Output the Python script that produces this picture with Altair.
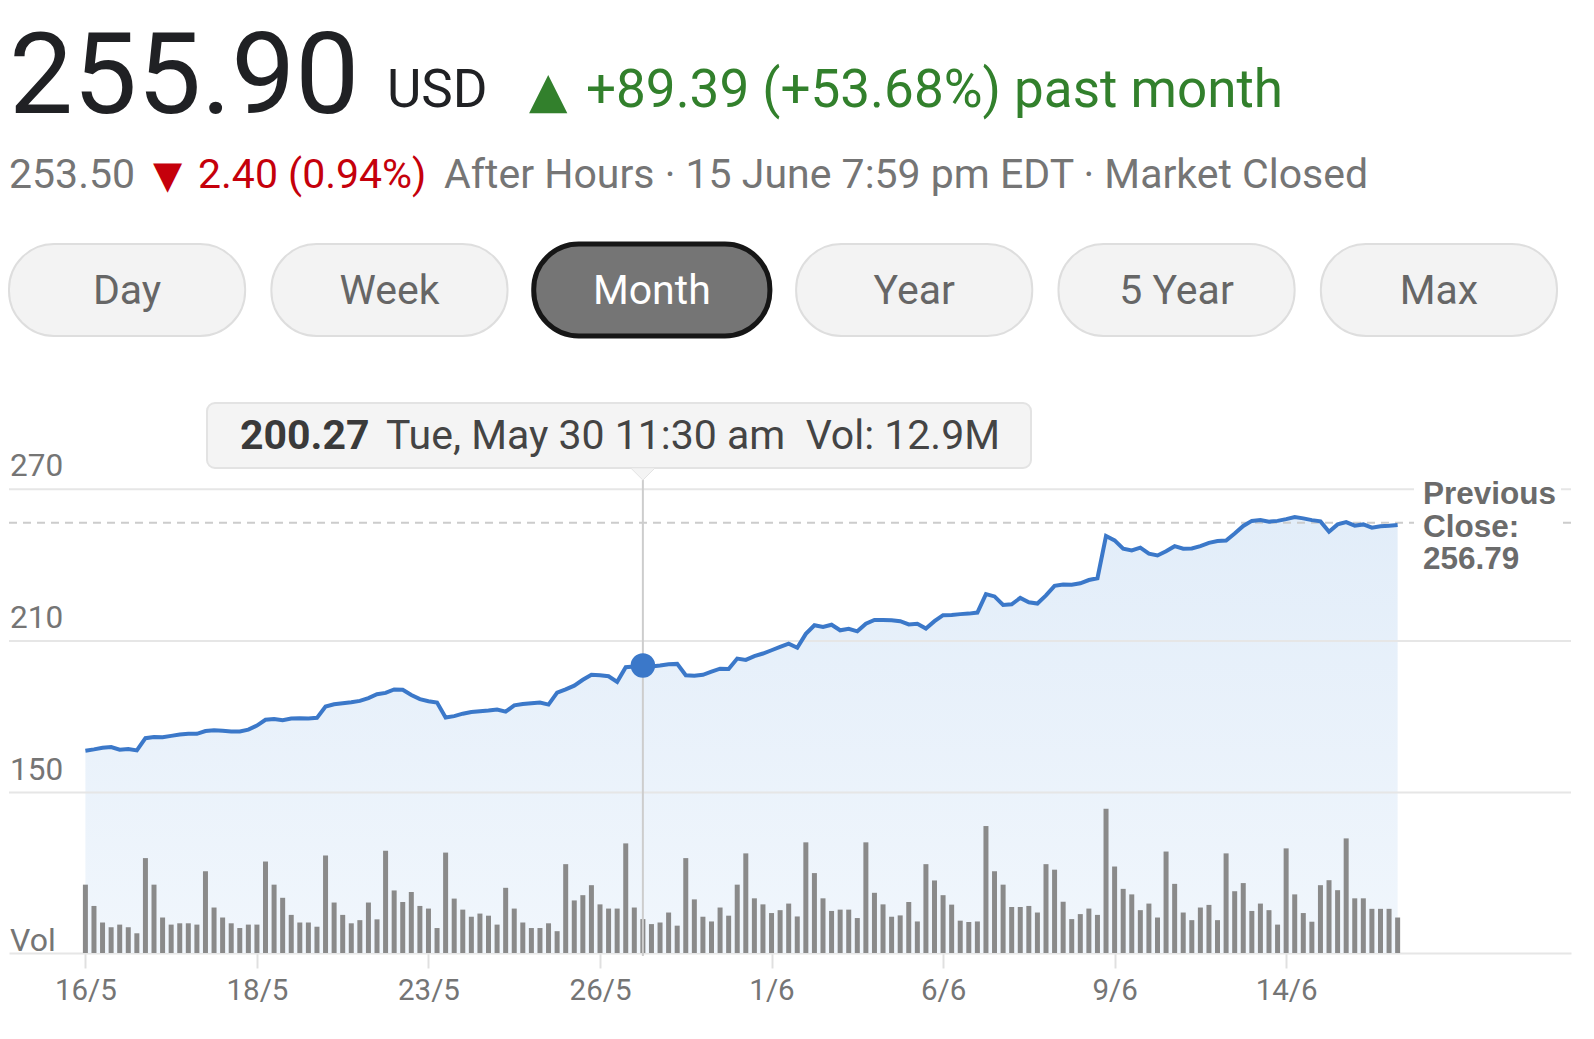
import altair as alt
import pandas as pd

# ---------------- data ----------------
days = ["Tue, May 16", "Wed, May 17", "Thu, May 18", "Fri, May 19",
        "Mon, May 22", "Tue, May 23", "Wed, May 24", "Thu, May 25", "Fri, May 26",
        "Tue, May 30", "Wed, May 31", "Thu, Jun 1", "Fri, Jun 2",
        "Mon, Jun 5", "Tue, Jun 6", "Wed, Jun 7", "Thu, Jun 8", "Fri, Jun 9",
        "Mon, Jun 12", "Tue, Jun 13", "Wed, Jun 14", "Thu, Jun 15"]
hours = ["9:30 am", "10:30 am", "11:30 am", "12:30 pm", "1:30 pm", "2:30 pm", "3:30 pm"]

prices = [
    166.51, 167.06, 167.74, 168.02, 166.92, 167.20, 166.65,
    171.50, 172.00, 171.86, 172.41, 172.96, 173.23, 173.23,
    174.33, 174.60, 174.47, 174.19, 174.19, 174.88, 176.50,
    178.80, 179.13, 178.58, 179.27, 179.40, 179.27, 179.54,
    184.00, 184.90, 185.30, 185.71, 186.26, 187.36, 188.87,
    189.42, 190.79, 190.65, 188.59, 186.95, 186.13, 185.58,
    179.68, 180.23, 181.19, 181.87, 182.15, 182.42, 182.83,
    182.00, 184.50, 185.00, 185.30, 185.60, 184.80, 189.50,
    190.80, 192.30, 194.60, 196.60, 196.40, 196.00, 193.80,
    199.60, 199.90, 200.27, 199.90, 200.30, 200.80, 200.90,
    196.40, 196.20, 196.60, 197.80, 199.00, 198.90, 203.00,
    202.50, 204.00, 205.00, 206.30, 207.60, 208.90, 207.30,
    212.80, 216.20, 215.50, 216.40, 214.20, 214.80, 213.80,
    216.80, 218.30, 218.30, 218.20, 217.80, 216.50, 216.80,
    214.90, 217.80, 220.20, 220.30, 220.60, 220.80, 221.20,
    228.50, 227.60, 224.20, 224.50, 227.00, 225.30, 224.80,
    228.00, 231.80, 232.30, 232.20, 232.80, 234.10, 234.80,
    251.50, 249.80, 246.50, 245.80, 246.90, 244.50, 243.80,
    245.50, 247.50, 246.50, 246.60, 247.50, 248.80, 249.50,
    249.70, 252.50, 255.50, 257.50, 257.85, 257.20, 257.50,
    258.20, 259.00, 258.50, 257.80, 257.30, 253.20, 256.10,
    257.00, 255.60, 256.10, 254.80, 255.40, 255.60, 255.90,
]

volumes = [  # millions of shares per hour
    26.0, 17.9, 11.6, 9.8, 10.8, 9.8, 7.5,
    36.1, 26.0, 13.5, 10.8, 11.3, 11.3, 10.8,
    31.1, 17.3, 13.5, 11.3, 9.5, 10.8, 10.8,
    34.8, 26.0, 21.0, 14.5, 11.6, 11.6, 10.0,
    37.1, 19.2, 14.5, 11.3, 12.5, 19.2, 12.8,
    38.9, 23.8, 19.4, 23.2, 17.9, 16.9, 9.5,
    38.2, 20.7, 16.5, 13.8, 15.0, 14.2, 10.8,
    24.8, 16.9, 11.6, 9.5, 9.5, 11.3, 8.3,
    33.8, 20.0, 22.0, 25.8, 18.5, 16.9, 16.9,
    41.7, 17.3, 12.9, 11.0, 11.6, 15.4, 10.4,
    36.1, 20.4, 13.8, 12.0, 17.3, 14.2, 26.0,
    37.9, 20.8, 18.5, 15.2, 16.3, 18.8, 13.9,
    42.1, 30.4, 20.8, 16.0, 16.5, 16.5, 13.3,
    42.1, 22.9, 18.5, 13.8, 14.3, 19.4, 12.0,
    33.8, 27.6, 22.0, 18.4, 12.3, 11.8, 12.0,
    48.3, 31.1, 26.0, 17.5, 17.5, 17.9, 15.4,
    33.8, 31.7, 19.5, 12.9, 14.8, 16.9, 14.5,
    54.9, 32.9, 24.4, 22.3, 16.3, 18.8, 13.5,
    38.6, 26.3, 15.4, 12.5, 17.3, 18.3, 12.5,
    37.9, 23.5, 26.6, 16.0, 18.8, 16.3, 10.8,
    39.8, 22.3, 15.2, 11.9, 25.8, 27.7, 23.9,
    43.6, 20.8, 20.8, 16.8, 16.8, 16.8, 13.5,
]

tick_labels = ["16/5", "18/5", "23/5", "26/5", "1/6", "6/6", "9/6", "14/6"]
tick_every = 20
price_ticks = [270, 210, 150]
prev_close = 256.79
ah_price = 253.50
ah_change = 2.40
ah_pct = 0.94
ah_time = "15 June 7:59 pm EDT"
buttons = ["Day", "Week", "Month", "Year", "5 Year", "Max"]
selected = "Month"
hover_index = 65

# ---------------- tables ----------------
n = len(prices)
df = pd.DataFrame({
    "idx": list(range(n)),
    "price": prices,
    "vol": volumes,
    "when": [f"{d} {h}" for d in days for h in hours],
})
hover = df[df.idx == hover_index]
one = pd.DataFrame({"k": [0]})

# ---------------- styling ----------------
W = 1562
W_BTN = 1548
H_HEAD = 232
H_BTN = 100
H_MAIN = 613
FONT = "Roboto"
BLUE = "#3b78c9"
GREY = "#757575"
GREEN = "#32802c"
RED = "#c5000b"

x_scale = alt.Scale(domain=[-8.324, 172.63], nice=False, zero=False)
p_scale = alt.Scale(domain=[86.48, 329.09], nice=False, zero=False)
v_scale = alt.Scale(domain=[0, 233.2], nice=False)


def txt(text, x, y, size, color, weight="normal", font=FONT, align="left"):
    return alt.Chart(one).mark_text(
        text=text, align=align, baseline="alphabetic", fontSize=size,
        color=color, fontWeight=weight, font=font
    ).encode(x=alt.value(x), y=alt.value(y))


# ---------------- header ----------------
first, last = prices[0], prices[-1]
chg = last - first
pct = chg / first * 100
header = alt.layer(
    txt(f"{last:.2f}", 0, 105, 114, "#202124"),
    txt("USD", 378, 99, 53, "#202124"),
    txt("▲", 520, 99, 50, GREEN, font="DejaVu Sans"),
    txt(f"+{chg:.2f} (+{pct:.2f}%) past month", 577, 99, 53, GREEN),
    txt(f"{ah_price:.2f}", 0, 180, 41, GREY),
    txt("▼", 144, 180, 38, RED, font="DejaVu Sans"),
    txt(f"{ah_change:.2f} ({ah_pct:.2f}%)", 189, 180, 41, RED),
    txt(f"After Hours · {ah_time} · Market Closed", 435, 180, 41, GREY),
).properties(width=W, height=H_HEAD)

# ---------------- buttons ----------------
bdf = pd.DataFrame({"label": buttons})
bx = alt.X("label:N", sort=buttons,
           scale=alt.Scale(domain=buttons, paddingInner=0.1, paddingOuter=0),
           axis=None)
is_sel = alt.datum.label == selected
btn_rect = alt.Chart(bdf).mark_rect(cornerRadius=45).encode(
    x=bx, y=alt.value(4), y2=alt.value(96),
    fill=alt.when(is_sel).then(alt.value("#757575")).otherwise(alt.value("#f3f3f3")),
    stroke=alt.when(is_sel).then(alt.value("#161616")).otherwise(alt.value("#dedede")),
    strokeWidth=alt.when(is_sel).then(alt.value(5)).otherwise(alt.value(2)),
)
btn_text = alt.Chart(bdf).mark_text(fontSize=41, font=FONT, baseline="middle").encode(
    x=bx, y=alt.value(52), text="label:N",
    color=alt.when(is_sel).then(alt.value("#ffffff")).otherwise(alt.value("#666666")),
)
btns = alt.layer(btn_rect, btn_text).properties(width=W_BTN, height=H_BTN)

# ---------------- main chart ----------------
label_expr = "[" + ",".join(f"'{t}'" for t in tick_labels) + f"][round(datum.value / {tick_every})]"
x_axis_def = alt.Axis(
    values=list(range(0, tick_every * len(tick_labels), tick_every)),
    labelExpr=label_expr, title=None, grid=False,
    domainColor="#e6e6e6", domainWidth=2,
    tickColor="#e0e0e0", tickWidth=2, tickSize=15,
    labelFontSize=29.5, labelColor=GREY, labelFont=FONT, labelPadding=8.5,
    labelFlush=False, labelOverlap=False)
xq = alt.X("idx:Q", scale=x_scale, axis=x_axis_def)

yp = alt.Y("price:Q", scale=p_scale, axis=None)

grad = alt.Gradient(
    gradient="linear",
    stops=[alt.GradientStop(color="#f8fbfe", offset=0),
           alt.GradientStop(color="#e2edf9", offset=1)],
    x1=1, x2=1, y1=1, y2=0)

area = alt.Chart(df).mark_area(color=grad, line=False, clip=True).encode(x=xq, y=yp)

tick_df = pd.DataFrame({"v": price_ticks})
grid = alt.Chart(tick_df).mark_rule(color="#e6e6e6", strokeWidth=2).encode(
    y=alt.Y("v:Q", scale=p_scale, axis=None), x=alt.value(0), x2=alt.value(W))
ylab = alt.Chart(tick_df).mark_text(
    align="left", baseline="alphabetic", dy=-13, fontSize=31.5, font=FONT, color=GREY
).encode(y=alt.Y("v:Q", scale=p_scale, axis=None), x=alt.value(1), text="v:Q")

pc_df = pd.DataFrame({"v": [prev_close]})
pc_line = alt.Chart(pc_df).mark_rule(color="#cccccc", strokeWidth=2, strokeDash=[8, 6]).encode(
    y=alt.Y("v:Q", scale=p_scale, axis=None), x=alt.value(0), x2=alt.value(W))

bars = alt.Chart(df).mark_bar(color="#8a8a8a", size=5).encode(
    x=xq, y=alt.Y("vol:Q", scale=v_scale, axis=None))

vol_lab = txt("Vol", 1, 611, 32, GREY)

hover_rule = alt.Chart(hover).mark_rule(color="#cdcdcd", strokeWidth=2).encode(
    x=xq, y=alt.value(140), y2=alt.value(616))

line = alt.Chart(df).mark_line(color=BLUE, strokeWidth=4).encode(x=xq, y=yp)

dot = alt.Chart(hover).mark_circle(size=600, color=BLUE, opacity=1).encode(x=xq, y=yp)

tip_box = alt.Chart(one).mark_rect(
    fill="#f4f4f4", stroke="#e3e3e3", strokeWidth=2, cornerRadius=8
).encode(x=alt.value(198), x2=alt.value(1022), y=alt.value(63), y2=alt.value(128))
tip_ptr = alt.Chart(hover).mark_point(
    shape="M-1,-0.5L1,-0.5L0,0.5Z", filled=True, fill="#f4f4f4", opacity=1,
    stroke="#e3e3e3", strokeWidth=1, size=600
).encode(x=xq, y=alt.value(134))

hv = hover.iloc[0]
tip_val = txt(f"{hv.price:.2f}", 231, 109, 41, "#3a3a3a", weight="bold")
tip_info = txt(f"{hv.when}\u00a0\u00a0Vol: {hv.vol:.1f}M", 377, 109, 41, "#444444")

pc_bg = alt.Chart(one).mark_rect(fill="white").encode(
    x=alt.value(1405), x2=alt.value(1552), y=alt.value(136), y2=alt.value(240))
pc_text = alt.Chart(one).mark_text(
    text=f"Previous\nClose:\n{prev_close:.2f}", lineBreak="\n", lineHeight=32.5,
    align="left", baseline="alphabetic", fontSize=31.5, fontWeight="bold",
    font="Liberation Sans", color="#6b6b6b"
).encode(x=alt.value(1414), y=alt.value(164))

main = alt.layer(
    area, grid, pc_line, bars, hover_rule, line, dot,
    tip_box, tip_ptr, tip_val, tip_info, pc_bg, pc_text, ylab, vol_lab,
).resolve_scale(y="independent").properties(width=W, height=H_MAIN)

chart = alt.vconcat(header, btns, main, spacing=0).properties(
    padding={"left": 0, "top": 0, "right": 2, "bottom": 6},
    background="white",
).configure_view(stroke=None)

chart.save("out.html", embed_options={"renderer": "svg", "actions": False})
